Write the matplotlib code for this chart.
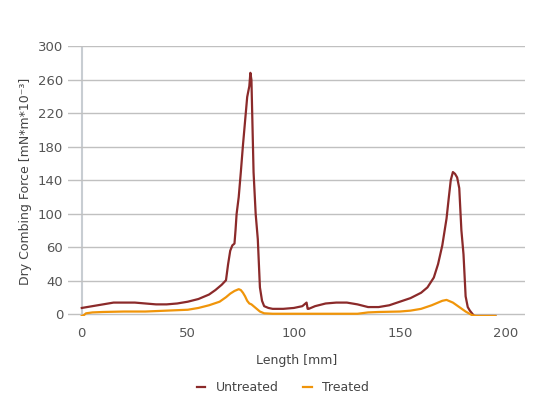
import numpy as np
import matplotlib.pyplot as plt

# data
x_untreated = [0, 5, 10, 15, 25, 30, 35, 40, 45, 50, 55, 60, 63, 66, 68, 69, 70, 71, 72, 72.5, 73, 74,
               75, 76, 77, 78, 79, 79.5, 80, 81, 82, 83, 84, 85, 86, 88, 90, 95, 100, 104, 106, 106.5,
               107, 110, 115, 120, 125, 130, 135, 140, 145, 150, 155, 160, 163, 166, 168, 170, 172,
               173, 174, 175, 176, 177, 178, 179, 180, 181, 182, 183, 184, 185, 190, 195]
y_untreated = [7, 9, 11, 13, 13, 12, 11, 11, 12, 14, 17, 22, 27, 33, 38, 56, 71, 77, 79, 94, 112, 131,
               159, 189, 216, 243, 255, 270, 262, 159, 112, 84, 30, 15, 9, 7, 6, 6, 7, 9, 13, 6,
               6, 9, 12, 13, 13, 11, 8, 8, 10, 14, 18, 24, 30, 41, 56, 77, 107,
               129, 150, 159, 157, 153, 141, 94, 67, 20, 8, 4, 1, -2, -2, -2]
x_treated = [0, 1, 2, 5, 10, 20, 30, 40, 50, 55, 60, 65, 68, 70, 72, 74, 75, 76, 77, 78, 79, 80, 82,
             84, 86, 90, 100, 110, 120, 130, 135, 140, 150, 155, 160, 165, 170, 172, 175, 178, 181,
             184, 186, 190, 195]
y_treated = [-2, -1, 1, 2, 2.5, 3, 3, 4, 5, 7, 10, 14, 19, 23, 26, 28, 27, 24, 20, 15, 12, 11, 7,
             3, 1, 0.5, 0.5, 0.5, 0.5, 0.5, 2, 2.5, 3, 4, 6, 10, 15, 16, 13, 8, 3,
             -1, -2, -2, -2]
y_tick_labels = ['0', '40', '60', '100', '140', '180', '220', '260', '300']

fig = plt.figure(figsize=(5.6, 4.2), dpi=100)
ax = fig.add_axes([68/560, 1 - 316/420, (525-68)/560, (316-46)/420])
ax.plot(x_untreated, y_untreated, color='#8b2a2a', lw=1.6, label='Untreated')
ax.plot(x_treated, y_treated, color='#f0950a', lw=1.6, label='Treated')
ax.axvline(0, color='#c8cdd2', lw=1.5, zorder=0)
ax.set_xlim(-6.5, 209)
ax.set_ylim(-2, 300)
ax.set_yticks(np.linspace(0, 300, 9))
ax.set_yticklabels(y_tick_labels)
ax.set_xticks([0, 50, 100, 150, 200])
ax.grid(axis='y', color='#c0c0c0', lw=1)
ax.set_axisbelow(True)
for s in ['top', 'right', 'left', 'bottom']:
    ax.spines[s].set_visible(False)
ax.tick_params(length=0, colors='#555555', labelsize=9.5)
ax.tick_params(axis='x', pad=8)
ax.set_xlabel('Length [mm]', color='#444444', fontsize=9, labelpad=10)
ax.set_ylabel('Dry Combing Force [mN*m*10⁻³]', color='#444444', fontsize=9)
ax.legend(loc='upper center', bbox_to_anchor=(0.47, -0.2), ncol=2, frameon=False,
          fontsize=9, handlelength=0.7, handleheight=0.7, labelcolor='#444444')
plt.savefig('out.png')
